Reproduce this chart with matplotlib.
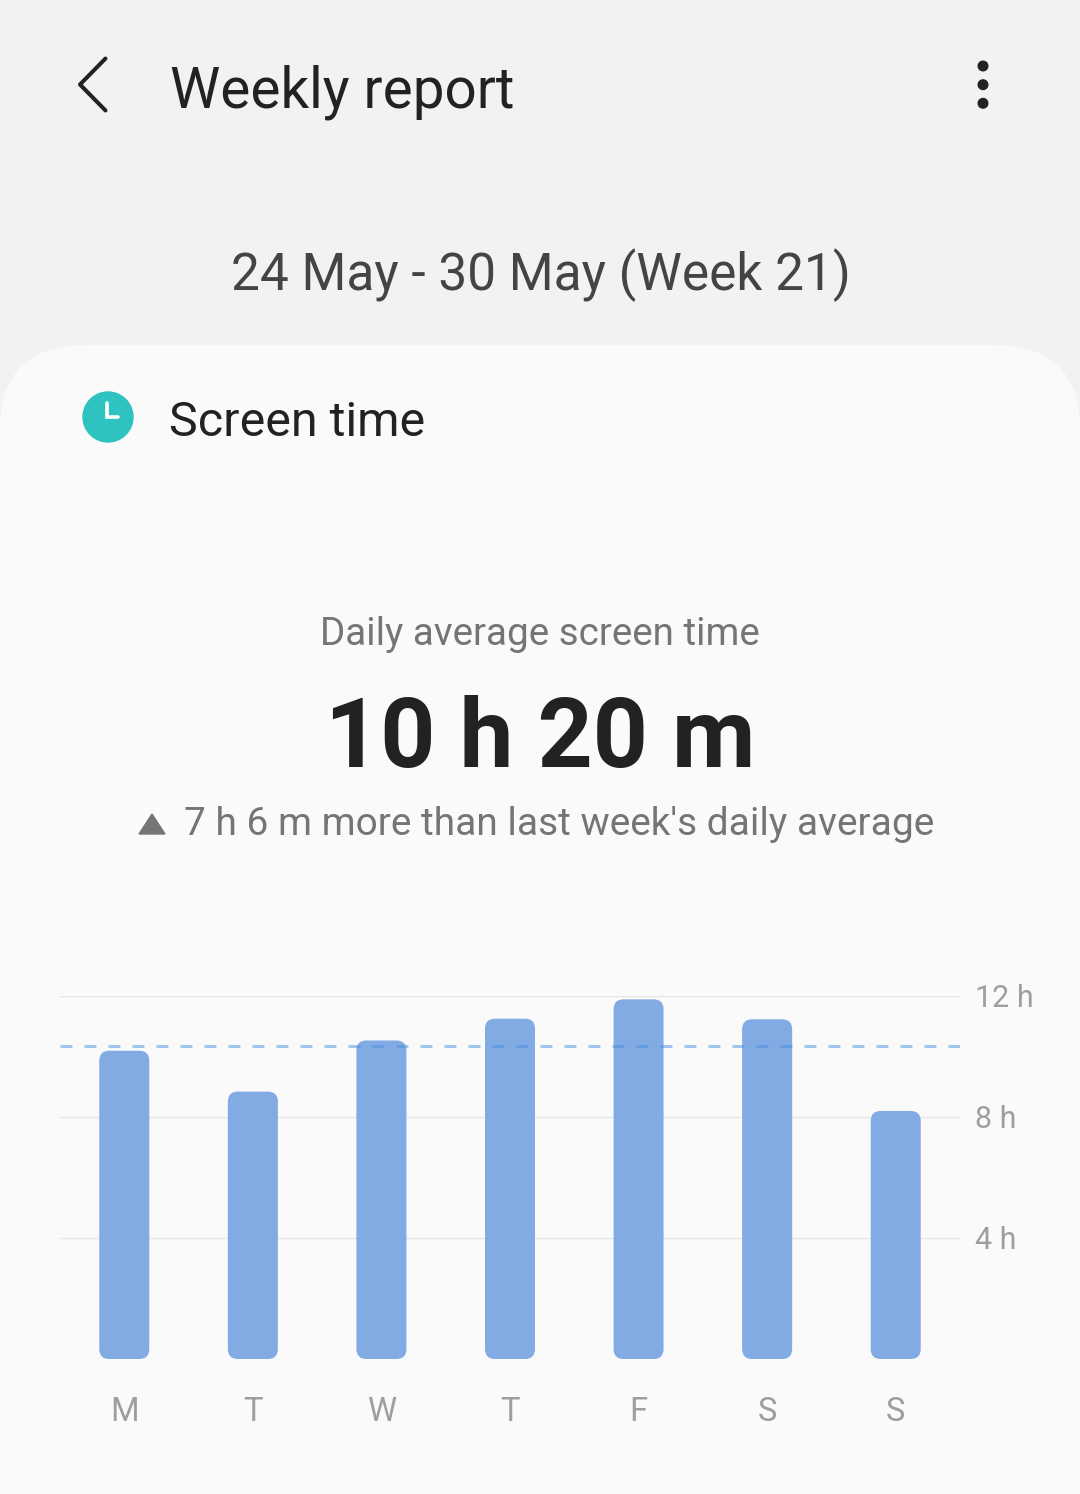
import numpy as np
import matplotlib
matplotlib.use("Agg")
import matplotlib.pyplot as plt
from matplotlib.patches import FancyBboxPatch, Circle, Polygon
from matplotlib.lines import Line2D
import matplotlib.transforms as mtransforms

# ---- data ----
days = ["M", "T", "W", "T", "F", "S", "S"]
hours = [10.19, 8.84, 10.53, 11.25, 11.89, 11.23, 8.20]
avg_hours = 10 + 20 / 60
y_ticks = [0, 4, 8, 12]
y_tick_labels = ["", "4 h", "8 h", "12 h"]

title = "Weekly report"
date_range = "24 May - 30 May (Week 21)"
section = "Screen time"
avg_caption = "Daily average screen time"
avg_text = "10 h 20 m"
delta_text = "7 h 6 m more than last week's daily average"

W, H = 1080, 1494
FONT = "Roboto"
fig = plt.figure(figsize=(W / 100, H / 100), dpi=100)
fig.patch.set_facecolor("#F2F2F2")

# background pixel-space axes
bg = fig.add_axes([0, 0, 1, 1])
bg.set_xlim(0, W)
bg.set_ylim(H, 0)
bg.axis("off")

# card
card = FancyBboxPatch((0, 345), W, H, boxstyle="round,pad=0,rounding_size=85",
                      facecolor="#FAFAFA", edgecolor="none")
bg.add_patch(card)

# header
bg.add_line(Line2D([105.5, 80, 105.5], [58.5, 84.5, 110.5], color="#222222",
                   lw=2.9, solid_capstyle="round", solid_joinstyle="round"))
bg.text(170, 107, title, fontsize=40.8, family=FONT, color="#222222", va="baseline")
for yy in [66, 84.7, 103.3]:
    bg.add_patch(Circle((983, yy), 4.8, color="#222222"))

bg.text(541, 290, date_range, fontsize=37.0, family=FONT, color="#444444",
        ha="center", va="baseline")

# section header
bg.add_patch(Circle((108, 417), 25, color="#2EC3C0"))
bg.add_line(Line2D([107, 107, 117.5], [403, 417, 417], color="white", lw=2.6,
                   solid_capstyle="round", solid_joinstyle="miter"))
bg.text(169, 436, section, fontsize=34.8, family=FONT, color="#222222", va="baseline")

bg.text(540, 645, avg_caption, fontsize=27.8, family=FONT, color="#757575",
        ha="center", va="baseline")
bg.text(540, 767, avg_text, fontsize=69.4, family=FONT, fontweight="bold",
        color="#222222", ha="center", va="baseline")
bg.add_patch(Polygon([[139, 834], [165, 834], [152, 814]], closed=True, color="#757575"))
bg.text(184, 835, delta_text, fontsize=28.0, family=FONT, color="#757575", va="baseline")

# ---- chart ----
x_left, x_right, y_bottom, y_top = 60, 960, 1359, 996
ax = fig.add_axes([x_left / W, 1 - y_bottom / H, (x_right - x_left) / W, (y_bottom - y_top) / H])
ax.set_facecolor("none")
n = len(days)
ax.set_xlim(-0.5, n - 0.5)
ax.set_ylim(0, 12)
for s in ax.spines.values():
    s.set_visible(False)
ax.set_xticks([])
ax.set_yticks(y_ticks)
ax.tick_params(axis="y", length=0, labelleft=False, labelright=False)
ax.grid(axis="y", color="#E6E6E6", lw=1.0)
ax.set_axisbelow(True)

px_x = (x_right - x_left) / n          # px per x unit
px_y = (y_bottom - y_top) / 12.0       # px per hour
bar_w = 50 / px_x
radius_px = 10
x = np.arange(n)
bars = ax.bar(x, hours, width=bar_w, color="#82AAE3", zorder=2)
for rect in bars:
    rect.set_visible(False)
    fb = FancyBboxPatch((rect.get_x(), rect.get_y()), rect.get_width(), rect.get_height(),
                        boxstyle=f"round,pad=0,rounding_size={radius_px / px_x}",
                        mutation_aspect=px_x / px_y,
                        facecolor="#82AAE3", edgecolor="none", zorder=2)
    ax.add_patch(fb)

ax.axhline(avg_hours, color="#4A90E2", alpha=0.5, lw=2.16, dashes=(4, 4), zorder=3)

# labels
trans_day = mtransforms.blended_transform_factory(ax.transData, bg.transData)
for i, d in enumerate(days):
    ax.text(i, 1421, d, transform=trans_day, fontsize=23.6, family=FONT,
            color="#9E9E9E", ha="center", va="baseline", clip_on=False)

trans_hr = mtransforms.offset_copy(
    mtransforms.blended_transform_factory(bg.transData, ax.transData),
    fig=fig, x=0, y=-11, units="dots")
for v, lab in zip(y_ticks, y_tick_labels):
    if lab:
        ax.text(975, v, lab, transform=trans_hr, fontsize=22, family=FONT,
                color="#9E9E9E", ha="left", va="baseline", clip_on=False)

fig.savefig("out.png", dpi=100, facecolor=fig.get_facecolor())
